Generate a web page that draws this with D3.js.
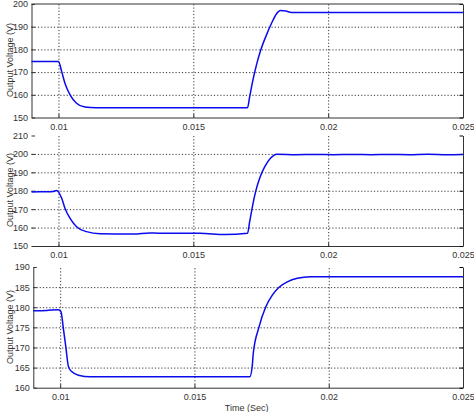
<!DOCTYPE html>
<html>
<head>
<meta charset="utf-8">
<script src="https://cdn.jsdelivr.net/npm/d3@7"></script>
<style>
  body { margin: 0; background: #fff; }
  svg { display: block; }
  .tick text { font-family: "Liberation Sans", Arial, sans-serif; font-size: 9px; fill: #333; }
  .grid line { stroke: #222; stroke-dasharray: 1.2,2; stroke-width: 0.9; }
  .grid .domain { display: none; }
</style>
</head>
<body>
<script>
// x ticks shared by all three plots
var xTicks = [0.01, 0.015, 0.02, 0.025];
var xTickLabels = ['0.01', '0.015', '0.02', '0.025'];

// plot 1 (top)
var topT = [0.009, 0.0100, 0.01012, 0.01024, 0.01043, 0.01067, 0.01098, 0.0114, 0.01701,
            0.01709, 0.01721, 0.01734, 0.0175, 0.01771, 0.0179, 0.01808, 0.01823, 0.01843, 0.01864, 0.025];
var topV = [174.7, 174.7, 170.2, 165.1, 160, 156.3, 154.6, 154.3, 154.3,
            159.2, 166.5, 173.1, 179.7, 186.3, 191.5, 195.6, 197.1, 196.9, 196.3, 196.3];
var topTicks = [150, 160, 170, 180, 190, 200];

// plot 2 (middle)
var midT = [0.009, 0.0093, 0.0096, 0.0098, 0.00993, 0.01012, 0.01024, 0.01043, 0.01067, 0.01104,
            0.01154, 0.01277, 0.01339, 0.01376, 0.01524, 0.01617, 0.01701,
            0.01709, 0.01719, 0.01731, 0.01746, 0.01765, 0.01786, 0.0181,
            0.0188, 0.0195, 0.0202, 0.0209, 0.0216, 0.0223, 0.023, 0.0237, 0.0244, 0.025];
var midV = [179.3, 179.5, 179.4, 179.6, 180.2, 175.9, 170.5, 165, 160.5, 157.8,
            156.7, 156.5, 157.1, 156.9, 156.9, 156.2, 156.9,
            163.2, 171.3, 179.5, 186.8, 193.1, 197.6, 199.8,
            199.6, 199.7, 199.6, 199.7, 199.6, 199.7, 199.6, 199.8, 199.6, 199.7];
var midTicks = [150, 160, 170, 180, 190, 200, 210];

// plot 3 (bottom)
var botT = [0.009, 0.0095, 0.00993, 0.01003, 0.01012, 0.01021, 0.01031, 0.01043, 0.01068, 0.01112,
            0.01706, 0.01715, 0.01719, 0.0174, 0.01765, 0.0179, 0.01814, 0.01846, 0.01883, 0.01932, 0.025];
var botV = [179.1, 179.2, 179.4, 178.9, 174.7, 170.2, 165.2, 164.0, 163.1, 162.7,
            162.7, 165.2, 168.5, 175, 180, 183, 184.9, 186.3, 187.2, 187.6, 187.6];
var botTicks = [160, 165, 170, 175, 180, 185, 190];

var W = 474, H = 412;
var svg = d3.select('body').append('svg').attr('width', W).attr('height', H);

var panels = [
  {t: topT, v: topV, ticks: topTicks, x0: 31.5, x1: 463, y0: 4, y1: 117.5, top: true, left: true, ly: 60},
  {t: midT, v: midV, ticks: midTicks, x0: 31.5, x1: 463, y0: 135.5, y1: 246, top: false, left: false, ly: 190},
  {t: botT, v: botV, ticks: botTicks, x0: 33.3, x1: 463, y0: 267, y1: 387.7, top: false, left: true, ly: 327}
];

panels.forEach(function(p){
  var x = d3.scaleLinear().domain([0.009, 0.025]).range([p.x0, p.x1]);
  var y = d3.scaleLinear().domain([p.ticks[0], p.ticks[p.ticks.length - 1]]).range([p.y1, p.y0]);
  var w = p.x1 - p.x0, h = p.y1 - p.y0;

  // dotted grid, inner ticks only
  svg.append('g').attr('class', 'grid')
    .attr('transform', 'translate(' + p.x0 + ',0)')
    .call(d3.axisLeft(y).tickValues(p.ticks.slice(1, -1)).tickSize(-w).tickFormat(''));
  svg.append('g').attr('class', 'grid')
    .attr('transform', 'translate(0,' + p.y1 + ')')
    .call(d3.axisBottom(x).tickValues(xTicks.slice(0, -1)).tickSize(h).tickSizeOuter(0).tickFormat(''))
    .selectAll('line').attr('y2', -h);

  // axes with inward ticks
  var xa = svg.append('g').attr('transform', 'translate(0,' + p.y1 + ')')
    .call(d3.axisBottom(x).tickValues(xTicks).tickSizeInner(-3.5).tickSizeOuter(0).tickPadding(6)
      .tickFormat(function(d, i){ return xTickLabels[i]; }));
  var ya = svg.append('g').attr('transform', 'translate(' + p.x0 + ',0)')
    .call(d3.axisLeft(y).tickValues(p.ticks).tickSizeInner(-3.5).tickSizeOuter(0).tickPadding(3.5));
  svg.append('g').attr('transform', 'translate(' + p.x1 + ',0)')
    .call(d3.axisRight(y).tickValues(p.ticks).tickSizeInner(-3.5).tickSizeOuter(0).tickFormat(''));
  [xa, ya].forEach(function(g){ g.selectAll('line, path').attr('stroke', '#333'); });
  if (!p.left) ya.select('.domain').remove();
  svg.selectAll('.domain').attr('stroke', '#333');
  if (p.top) {
    svg.append('line').attr('x1', p.x0).attr('x2', p.x1).attr('y1', p.y0).attr('y2', p.y0)
      .attr('stroke', '#333');
  }

  var line = d3.line()
    .x(function(d, i){ return x(p.t[i]); })
    .y(function(d){ return y(d); })
    .curve(d3.curveMonotoneX);
  svg.append('path').datum(p.v)
    .attr('d', line)
    .attr('fill', 'none')
    .attr('stroke', '#0a0aee')
    .attr('stroke-width', 1.5);

  svg.append('text')
    .attr('transform', 'translate(10,' + p.ly + ') rotate(-90)')
    .attr('text-anchor', 'middle')
    .attr('dy', '0.35em')
    .style('font-family', '"Liberation Sans", Arial, sans-serif')
    .style('font-size', '9px')
    .style('fill', '#333')
    .text('Output Voltage (V)');
});

svg.append('text')
  .attr('x', 246.7).attr('y', 411)
  .attr('text-anchor', 'middle')
  .style('font-family', '"Liberation Sans", Arial, sans-serif')
  .style('font-size', '9px')
  .style('fill', '#333')
  .text('Time (Sec)');
</script>
</body>
</html>
